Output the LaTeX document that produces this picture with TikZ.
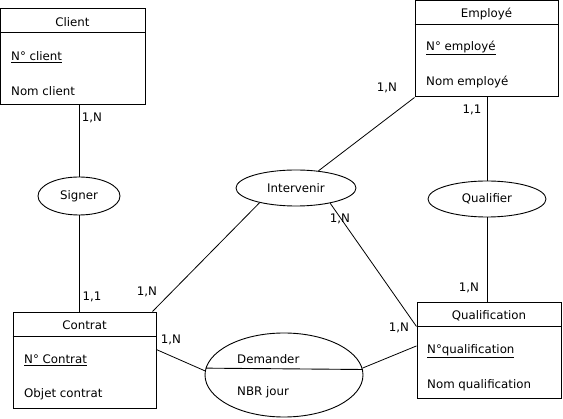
\documentclass[tikz,border=0pt]{standalone}
\usepackage{fontspec}
\setmainfont{DejaVu Sans}
\usetikzlibrary{shapes.geometric}
\begin{document}
\begin{tikzpicture}[x=1pt,y=-1pt,
  every node/.style={font=\fontsize{11.8}{13}\selectfont},
  entity/.style={draw, line width=1pt, rectangle, inner sep=0pt, minimum width=#1, minimum height=96},
  relation/.style={draw, line width=0.9pt, ellipse, inner sep=0pt},
  txt/.style={inner sep=0pt, anchor=west},
  head/.style={inner sep=0pt},
  card/.style={inner sep=0pt},
  link/.style={line width=0.8pt}]
\useasboundingbox (0,0) rectangle (563,419);
% entities
\node[entity=145] (client) at (72.5,57) {};
\draw[line width=1pt] ([yshift=-24pt]client.north west) -- ([yshift=-24pt]client.north east);
\node[head] (clienth) at (72.5,22) {Client};
\node[txt] (clienta) at (11,57) {\underline{N° client}};
\node[txt] (clientb) at (11,91) {Nom client};

\node[entity=143] (employe) at (486.5,49) {};
\draw[line width=1pt] ([yshift=-24pt]employe.north west) -- ([yshift=-24pt]employe.north east);
\node[head] (employeh) at (486.5,14) {Employé};
\node[txt] (employea) at (426,48) {\underline{N° employé}};
\node[txt] (employeb) at (426,82) {Nom employé};

\node[entity=143] (contrat) at (84.5,361) {};
\draw[line width=1pt] ([yshift=-24pt]contrat.north west) -- ([yshift=-24pt]contrat.north east);
\node[head] (contrath) at (84.5,325) {Contrat};
\node[txt] (contrata) at (24,360) {\underline{N° Contrat}};
\node[txt] (contratb) at (24,394) {Objet contrat};

\node[entity=144] (qualif) at (489,351) {};
\draw[line width=1pt] ([yshift=-24pt]qualif.north west) -- ([yshift=-24pt]qualif.north east);
\node[head] (qualifh) at (489,316) {Qualification};
\node[txt] (qualifa) at (427,351) {\underline{N°qualification}};
\node[txt] (qualifb) at (427,385) {Nom qualification};

% relations
\node[relation, minimum width=82, minimum height=38] (signer) at (79,196) {Signer};
\node[relation, minimum width=120, minimum height=36] (intervenir) at (296,188) {Intervenir};
\node[relation, minimum width=118, minimum height=36] (qualifier) at (487,199) {Qualifier};
\node[relation, minimum width=158, minimum height=84] (demander) at (284,375) {};
\draw[line width=0.9pt] (demander.175.5) -- (demander.4.5);
\node[txt] (demandert) at (237,359) {Demander};
\node[txt] (nbr) at (237,392) {NBR jour};

% connectors
\draw[link] (signer.north) -- (signer.north |- client.south);
\draw[link] (signer.south) -- (signer.south |- contrat.north);
\draw[link] (qualifier.north) -- (qualifier.north |- employe.south);
\draw[link] (qualifier.south) -- (qualifier.south |- qualif.north);
\draw[link] (intervenir) -- (employe.south west);
\draw[link] (intervenir.202) -- ([xshift=-4pt,yshift=1pt]contrat.north east);
\draw[link] (intervenir.336) -- ([yshift=-24pt]qualif.north west);
\draw[link] (contrat.9.4) -- (demander.177);
\draw[link] (demander.5) -- (qualif.176);

% cardinalities
\node[card] (c1) at (92,118) {1,N};
\node[card] (c2) at (92,297) {1,1};
\node[card] (c3) at (147,292) {1,N};
\node[card] (c4) at (171,340) {1,N};
\node[card] (c5) at (387,88) {1,N};
\node[card] (c6) at (472,110) {1,1};
\node[card] (c7) at (340,219) {1,N};
\node[card] (c8) at (469,288) {1,N};
\node[card] (c9) at (399,328) {1,N};
\end{tikzpicture}
\end{document}
